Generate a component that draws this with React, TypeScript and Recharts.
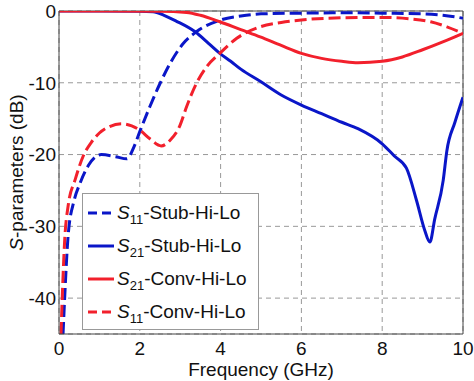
import {
  CartesianGrid,
  Legend,
  Line,
  LineChart,
  ReferenceLine,
  XAxis,
  YAxis,
} from "recharts";

const BLUE = "#0a16c8";
const RED = "#f2202c";

const freqTicks = [0, 2, 4, 6, 8, 10];
const dbTicks = [0, -10, -20, -30, -40];

// [GHz, dB]
const s11Stub = [
  [0.1, -45], [0.14, -40], [0.23, -31], [0.37, -26.5], [0.52, -24], [0.73, -21.5],
  [1.05, -20], [1.4, -20.3], [1.68, -20.6], [1.85, -19], [2.0, -16.8], [2.25, -13.3],
  [2.5, -10.1], [2.75, -7.3], [3.08, -4.5], [3.4, -2.9], [4, -1.25], [4.5, -0.7],
  [5, -0.4], [6, -0.3], [7, -0.25], [8, -0.3], [9, -0.4], [9.5, -0.6], [10, -1.0],
];
const s21Stub = [
  [0, 0], [2, -0.02], [2.33, -0.1], [2.6, -0.6], [2.9, -1.4], [3.37, -2.9], [3.7, -4.5],
  [3.98, -5.9], [4.25, -7.0], [4.5, -8.1], [4.98, -9.8], [5.5, -11.7], [6.0, -13.1],
  [6.5, -14.3], [7.0, -15.5], [7.4, -16.4], [8.0, -18.5], [8.3, -20.2], [8.6, -21.9],
  [8.85, -26.4], [9.05, -30.5], [9.18, -32.2], [9.3, -29], [9.51, -23.6], [9.6, -19.5],
  [9.8, -15.5], [10, -12.0],
];
const s21Conv = [
  [0, 0], [2.5, -0.02], [3.16, -0.2], [3.5, -0.6], [3.98, -1.5], [4.5, -2.6], [4.98, -3.6],
  [5.5, -4.8], [6, -5.9], [6.5, -6.6], [7, -7.0], [7.4, -7.2], [8, -7.0], [8.5, -6.4],
  [9, -5.4], [9.5, -4.3], [10, -3.1],
];
const s11Conv = [
  [0.05, -45], [0.08, -40], [0.14, -32], [0.23, -27], [0.4, -23.5], [0.6, -20.2],
  [0.8, -18.3], [1.0, -17], [1.25, -16.1], [1.55, -15.7], [1.8, -16], [2.0, -16.6],
  [2.25, -17.8], [2.53, -18.8], [2.75, -18.0], [2.99, -16.0], [3.16, -13.3], [3.4, -10.1],
  [3.65, -7.8], [3.98, -5.9], [4.4, -3.8], [4.98, -2.2], [5.5, -1.6], [6, -1.25],
  [7, -0.95], [8, -0.9], [8.7, -1.1], [9.2, -1.5], [9.6, -2.2], [10, -3.1],
];

const toRows = (pts: number[][]) => pts.map(([f, db]) => ({ f, db }));

const series = [
  { key: "s11Stub", sub: "11", name: "-Stub-Hi-Lo", color: BLUE, dash: true, pts: s11Stub },
  { key: "s21Stub", sub: "21", name: "-Stub-Hi-Lo", color: BLUE, dash: false, pts: s21Stub },
  { key: "s21Conv", sub: "21", name: "-Conv-Hi-Lo", color: RED, dash: false, pts: s21Conv },
  { key: "s11Conv", sub: "11", name: "-Conv-Hi-Lo", color: RED, dash: true, pts: s11Conv },
];

const FONT = "'Liberation Sans', Arial, sans-serif";

const LegendBox = () => (
  <div
    style={{
      border: "1px solid #999",
      background: "#fff",
      width: 177,
      height: 137,
      boxSizing: "border-box",
      padding: "2px 0 0 5px",
      fontFamily: FONT,
      fontSize: 19,
      color: "#111",
      textAlign: "left",
    }}
  >
    {series.map((s) => (
      <div key={s.key} style={{ display: "flex", alignItems: "center", height: 33 }}>
        <svg width={27} height={10} style={{ flexShrink: 0 }}>
          <line
            x1={0}
            y1={5}
            x2={26}
            y2={5}
            stroke={s.color}
            strokeWidth={3}
            strokeDasharray={s.dash ? "9 5" : undefined}
          />
        </svg>
        <span style={{ marginLeft: 2, whiteSpace: "nowrap", lineHeight: "20px" }}>
          <i>S</i>
          <sub style={{ fontSize: 13, lineHeight: 0 }}>{s.sub}</sub>
          {s.name}
        </span>
      </div>
    ))}
  </div>
);

export default function App() {
  return (
    <div style={{ position: "absolute", left: 0, top: 0, background: "#fff" }}>
      <LineChart
        width={474}
        height={381}
        margin={{ top: 11, right: 11, bottom: 7, left: 0 }}
        style={{ fontFamily: FONT }}
      >
        <CartesianGrid stroke="#999" strokeDasharray="5 4" />
        <XAxis
          type="number"
          dataKey="f"
          domain={[0, 10]}
          ticks={freqTicks}
          height={40}
          tickLine={false}
          stroke="#444"
          tick={{ fill: "#111", fontSize: 19 }}
          allowDataOverflow
          label={(props: any) => {
            const vb = props.viewBox;
            return (
              <text x={vb.x + vb.width / 2} y={376} textAnchor="middle" fontSize={19} fill="#111">
                Frequency (GHz)
              </text>
            );
          }}
        />
        <YAxis
          type="number"
          domain={[-45, 0]}
          ticks={dbTicks}
          width={59}
          tickLine={false}
          tickSize={3}
          tickMargin={0}
          stroke="#444"
          tick={{ fill: "#111", fontSize: 19 }}
          allowDataOverflow
          label={(props: any) => {
            const vb = props.viewBox;
            const cy = vb.y + vb.height / 2;
            return (
              <text
                x={23}
                y={cy}
                transform={`rotate(-90 23 ${cy})`}
                textAnchor="middle"
                fontSize={19}
                fill="#111"
              >
                <tspan fontStyle="italic">S</tspan>
                <tspan>-parameters (dB)</tspan>
              </text>
            );
          }}
        />
        <ReferenceLine y={0} stroke="#444" />
        <ReferenceLine x={10} stroke="#444" />
        {series.map((s) => (
          <Line
            key={s.key}
            data={toRows(s.pts)}
            dataKey="db"
            type="monotone"
            stroke={s.color}
            strokeWidth={3}
            strokeDasharray={s.dash ? "12 5" : undefined}
            dot={false}
            activeDot={false}
            isAnimationActive={false}
          />
        ))}
        <Legend
          layout="horizontal"
          verticalAlign="middle"
          align="center"
          content={() => <LegendBox />}
          wrapperStyle={{ position: "absolute", left: 82, top: 193, width: 177, height: 137 }}
        />
      </LineChart>
    </div>
  );
}
